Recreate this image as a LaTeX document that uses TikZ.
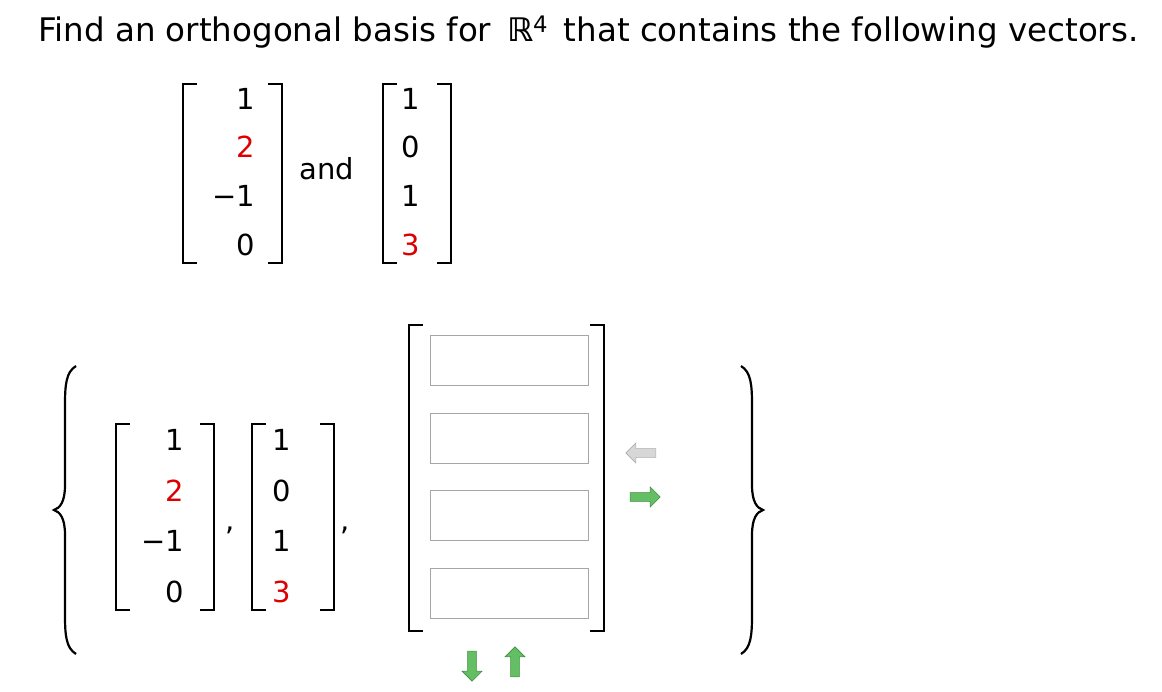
\documentclass[tikz,border=0pt]{standalone}
\usepackage{fontspec}
\setmainfont{DejaVu Sans}
\usetikzlibrary{shapes.arrows}
\definecolor{myred}{RGB}{220,0,0}
\definecolor{agreen}{RGB}{100,190,100}
\definecolor{agreendk}{RGB}{60,140,60}
\definecolor{agray}{RGB}{215,215,215}
\begin{document}
\begin{tikzpicture}[x=1pt,y=-1pt,
  txt/.style={font=\fontsize{29}{32}\selectfont, inner sep=0pt, anchor=base},
  num/.style={font=\fontsize{29}{32}\selectfont, inner sep=0pt, anchor=base east},
  brk/.style={line width=1.6pt},
  box/.style={draw=black!35, line width=0.8pt, minimum width=158pt, minimum height=50pt, inner sep=0pt, anchor=north west},
  arr/.style={single arrow, minimum height=30pt, minimum width=20pt, single arrow head extend=3pt, inner sep=2pt, line width=0.6pt}]
\useasboundingbox (0,0) rectangle (1162,692);
\node[txt, anchor=base west, font=\fontsize{32.5}{36}\selectfont] (title) at (38,42) {Find an orthogonal basis for \,\textbf{ℝ}\textsuperscript{4}\, that contains the following vectors.};
% top matrices
\draw[brk] (197,84) -| (183,263) -- (197,263);
\draw[brk] (268,84) -| (282,263) -- (268,263);
\node[num] (a1) at (255,110) {1};
\node[num,text=myred] (a2) at (255,158) {2};
\node[num] (a3) at (255,207) {−1};
\node[num] (a4) at (255,256) {0};
\node[txt] (and) at (327,180) {and};
\draw[brk] (397,84) -| (383,263) -- (397,263);
\draw[brk] (437,84) -| (451,263) -- (437,263);
\node[num] (b1) at (420,110) {1};
\node[num] (b2) at (420,158) {0};
\node[num] (b3) at (420,207) {1};
\node[num,text=myred] (b4) at (420,256) {3};
% bottom
\draw[line width=2.2pt] (76,366) .. controls (66,372) and (65,385) .. (65,405) -- (65,485) .. controls (65,502) and (60,508) .. (54,510) .. controls (60,512) and (65,518) .. (65,535) -- (65,615) .. controls (65,635) and (66,648) .. (76,654);
\draw[line width=2.2pt] (741,366) .. controls (751,372) and (752,385) .. (752,405) -- (752,485) .. controls (752,502) and (757,508) .. (763,510) .. controls (757,512) and (752,518) .. (752,535) -- (752,615) .. controls (752,635) and (751,648) .. (741,654);
\draw[brk] (130,424) -| (116,610) -- (130,610);
\draw[brk] (200,424) -| (214,610) -- (200,610);
\node[num] (c1) at (184,450) {1};
\node[num,text=myred] (c2) at (184,501) {2};
\node[num] (c3) at (184,551) {−1};
\node[num] (c4) at (184,602) {0};
\node[txt] (k1) at (230,530) {,};
\draw[brk] (266,424) -| (252,610) -- (266,610);
\draw[brk] (320,424) -| (334,610) -- (320,610);
\node[num] (d1) at (291,450) {1};
\node[num] (d2) at (291,501) {0};
\node[num] (d3) at (291,551) {1};
\node[num,text=myred] (d4) at (291,602) {3};
\node[txt] (k2) at (345,530) {,};
\draw[brk] (423,325) -| (409,631) -- (423,631);
\draw[brk] (590,325) -| (604,631) -- (590,631);
\node[box] (e1) at (430,335) {};
\node[box] (e2) at (430,413) {};
\node[box] (e3) at (430,490) {};
\node[box] (e4) at (430,568) {};
\node[arr, fill=agray, draw=agray!80!black, shape border rotate=180] (la) at (643,453) {};
\node[arr, fill=agreen, draw=agreendk] (ra) at (643,497) {};
\node[arr, fill=agreen, draw=agreendk, shape border rotate=270] (da) at (472,664) {};
\node[arr, fill=agreen, draw=agreendk, shape border rotate=90] (ua) at (515,664) {};
\end{tikzpicture}
\end{document}
